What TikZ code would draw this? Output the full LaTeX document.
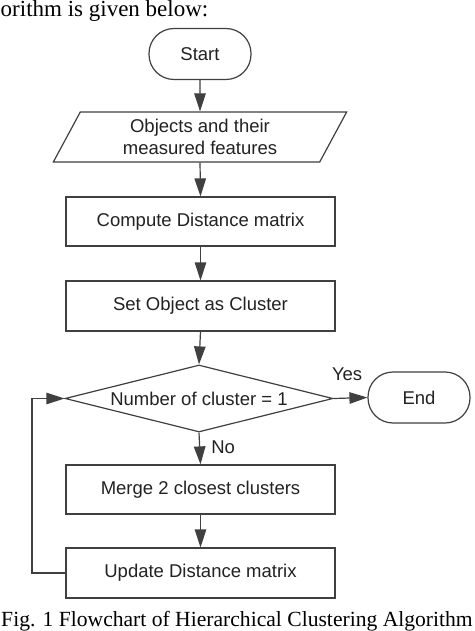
\documentclass[tikz,border=0pt]{standalone}
\usepackage{fontspec}
\setmainfont{Liberation Serif}
\newfontfamily\arialfont{Liberation Sans}
\usetikzlibrary{shapes.geometric,arrows.meta}
\definecolor{linegray}{HTML}{404040}
\definecolor{textgray}{HTML}{222222}
\begin{document}
\begin{tikzpicture}[x=1pt,y=-1pt,
  every node/.style={font=\arialfont\fontsize{18.5}{22}\selectfont, text=textgray},
  box/.style={draw=linegray, line width=1.2pt, rectangle, minimum width=269pt, minimum height=49pt, inner sep=0pt},
  terminal/.style={draw=linegray, line width=1.2pt, rectangle, rounded corners=25pt, minimum width=102pt, minimum height=51pt, inner sep=0pt},
  iobox/.style={draw=linegray, line width=1.2pt, trapezium, trapezium left angle=64, trapezium right angle=116, trapezium stretches=true, minimum width=294pt, minimum height=50pt, inner sep=0pt, align=center},
  decision/.style={draw=linegray, line width=1.2pt, diamond, aspect=4, minimum width=268pt, minimum height=67pt, inner sep=0pt},
  flow/.style={draw=linegray, line width=1.2pt, -{Triangle[length=18pt,width=11.5pt]}},
  lbl/.style={font=\arialfont\fontsize{18.5}{22}\selectfont, inner sep=0pt}
]
\useasboundingbox (0,0) rectangle (474,631);
\fill[white] (0,0) rectangle (474,631);

\node[anchor=base west, inner sep=0pt, font=\fontsize{23}{26}\selectfont, text=black] (intro) at (0.5,16.5) {orithm is given below:};

\node[terminal] (start) at (200,54) {Start};
\node[iobox] (input) at (200,137) {Objects and their\\measured features};
\node[box] (compute) at (200.5,221.5) {Compute Distance matrix};
\node[box, minimum height=50pt] (setobj) at (200.5,306) {Set Object as Cluster};
\node[decision] (dec) at (199,398.5) {Number of cluster = 1};
\node[terminal] (end) at (419,397.5) {End};
\node[box] (merge) at (200.5,489.5) {Merge 2 closest clusters};
\node[box, minimum height=50pt] (update) at (200.5,573) {Update Distance matrix};

\draw[flow] (start.south) -- (input.north);
\draw[flow] (input.south) -- (compute.north);
\draw[flow] (compute.south) -- (setobj.north);
\draw[flow] (setobj.south) -- (dec.north);
\draw[flow] (dec.east) -- node[lbl, pos=0.4, above=17pt] (yes) {Yes} (end.west);
\draw[flow] (dec.south) -- node[lbl, pos=0.45, right=11pt] (no) {No} (merge.north);
\draw[flow] (merge.south) -- (update.north);
\coordinate (loopcorner) at (32,398.5);
\draw[flow] (update.west) -| (loopcorner) -- (dec.west);

\node[anchor=base, inner sep=0pt, font=\fontsize{21.6}{24}\selectfont, text=black] (caption) at (237,626) {Fig. 1 Flowchart of Hierarchical Clustering Algorithm};
\end{tikzpicture}
\end{document}
